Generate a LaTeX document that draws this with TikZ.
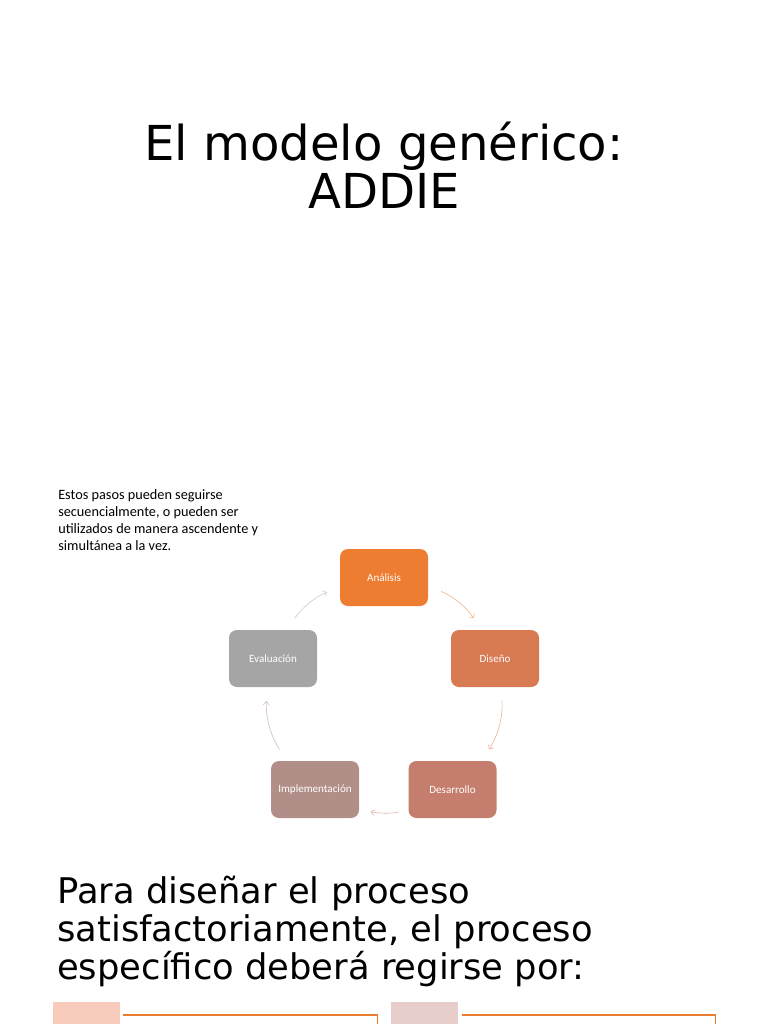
\documentclass[tikz,border=0pt]{standalone}
\usepackage{fontspec}
\setmainfont{DejaVu Sans}
\newfontfamily\calibri{Carlito}
\usetikzlibrary{arrows.meta}

\definecolor{anacol}{RGB}{237,125,49}
\definecolor{discol}{RGB}{216,122,82}
\definecolor{descol}{RGB}{197,126,110}
\definecolor{impcol}{RGB}{178,142,136}
\definecolor{evacol}{RGB}{165,165,165}
\definecolor{tabA}{RGB}{248,203,189}
\definecolor{tabB}{RGB}{232,206,202}

\begin{document}
\begin{tikzpicture}[x=0.75pt,y=0.75pt,
  step node/.style={rectangle,rounded corners=6pt,minimum width=66pt,minimum height=42.75pt,
    inner sep=0pt,outer sep=0pt,text=white,font=\calibri\fontsize{8.3}{9}\selectfont},
  flow/.style={-{Straight Barb[length=2.5pt,width=4.5pt]},line width=0.5pt,
    shorten <=10.5pt,shorten >=10.5pt},
  tab node/.style={rectangle,minimum width=50.25pt,minimum height=21pt,inner sep=0pt,anchor=north west},
  rule line/.style={anacol,line width=0.9pt}]
  \useasboundingbox (0,0) rectangle (768,-1024);

  % titulo y textos
  \node[anchor=north,align=center,inner sep=0pt,font=\fontsize{36.1}{36}\selectfont] (title) at (384,-122) {El modelo genérico:\\ADDIE};
  \node[anchor=north west,align=left,inner sep=0pt,font=\calibri\fontsize{10.7}{12.75}\selectfont] (note) at (58,-489) {Estos pasos pueden seguirse\\secuencialmente, o pueden ser\\utilizados de manera ascendente y\\simultánea a la vez.};
  \node[anchor=north west,align=left,inner sep=0pt,font=\fontsize{26.5}{28.3}\selectfont] (body) at (57,-876) {Para diseñar el proceso\\satisfactoriamente, el proceso\\específico deberá regirse por:};

  % ciclo ADDIE
  \node[step node,fill=anacol] (ana) at (384,-577.5) {Análisis};
  \node[step node,fill=discol] (dis) at (495,-658.5) {Diseño};
  \node[step node,fill=descol] (des) at (452.5,-789.5) {Desarrollo};
  \node[step node,fill=impcol] (imp) at (315,-789.5) {Implementación};
  \node[step node,fill=evacol] (eva) at (273,-658.5) {Evaluación};

  \draw[flow,anacol!55!white] (ana.-11.7) to[out=-22.1,in=123.7] (dis.115.7);
  \draw[flow,discol!55!white] (dis.-78.7) to[out=-86.1,in=55.7] (des.45.4);
  \draw[flow,descol!55!white,shorten <=7.5pt,shorten >=9pt] (des.-155.8) to[out=-168.2,in=-12.3] (imp.-24.2);
  \draw[flow,impcol!55!white] (imp.134.1) to[out=124.3,in=-93.9] (eva.-101.3);
  \draw[flow,evacol!55!white] (eva.64.3) to[out=56.3,in=202.1] (ana.-168.3);

  % pie cortado
  \node[tab node,fill=tabA] (tab1) at (53,-1002) {};
  \node[tab node,fill=tabB] (tab2) at (391,-1002) {};
  \draw[rule line] ([shift={(2,-13)}]tab1.north east) -- ++(255,0) -- ++(0,-15);
  \draw[rule line] ([shift={(3,-13)}]tab2.north east) -- ++(254,0) -- ++(0,-15);
\end{tikzpicture}
\end{document}
